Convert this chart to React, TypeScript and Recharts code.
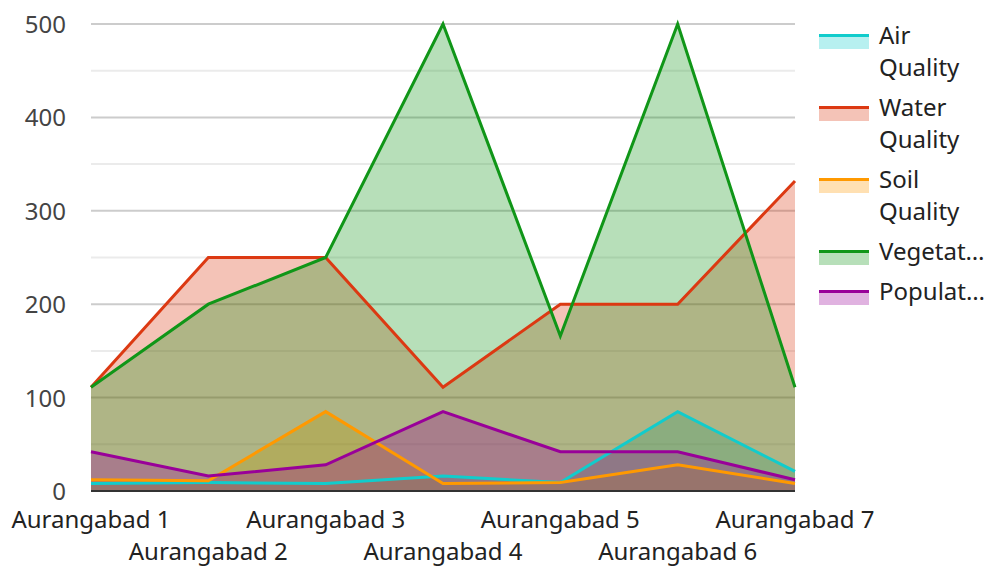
import { ComposedChart, Area, Line, XAxis, YAxis, CartesianGrid } from 'recharts';

const CATEGORIES = [
  'Aurangabad 1',
  'Aurangabad 2',
  'Aurangabad 3',
  'Aurangabad 4',
  'Aurangabad 5',
  'Aurangabad 6',
  'Aurangabad 7',
];

const AIR = [8, 9, 8, 16, 9, 85, 21];
const WATER = [111, 250, 250, 111, 200, 200, 332];
const SOIL = [12, 11, 85, 8, 9, 28, 8];
const VEGETATION = [111, 200, 250, 500, 166, 500, 111];
const POPULATION = [42, 16, 28, 85, 42, 42, 12];

const SERIES_KEYS = ['air', 'water', 'soil', 'vegetation', 'population'];
const LEGEND_LABELS = ['Air Quality', 'Water Quality', 'Soil Quality', 'Vegetat…', 'Populat…'];
const COLORS = ['#11cccc', '#dc3912', '#ff9900', '#109618', '#990099'];

const Y_TICKS = [0, 50, 100, 150, 200, 250, 300, 350, 400, 450, 500];
const MAJOR = [100, 200, 300, 400, 500];
const MINOR = [50, 150, 250, 350, 450];

const data = CATEGORIES.map((name, i) => ({
  name,
  air: AIR[i],
  water: WATER[i],
  soil: SOIL[i],
  vegetation: VEGETATION[i],
  population: POPULATION[i],
}));

const FONT = '"Noto Sans", sans-serif';

const YTick = ({ y, payload }: any) => {
  if (payload.value % 100 !== 0) return null;
  return (
    <text x={66} y={y + 9} textAnchor="end" fontSize={24} fill="#444" fontFamily={FONT}>
      {payload.value}
    </text>
  );
};

// staggered category labels, odd ones on a second row
const XTick = ({ x, payload, index }: any) => (
  <text
    x={x}
    y={491 + (index % 2 ? 69 : 37)}
    textAnchor="middle"
    fontSize={24}
    fill="#222"
    fontFamily={FONT}
  >
    {payload.value}
  </text>
);

// two-line items take 72px, one-line 40px
const legendTops = [19, 91, 163, 235, 275];

const App = () => (
  <div style={{ position: 'absolute', left: 0, top: 0, width: 991, height: 567, background: '#fff' }}>
    <ComposedChart
      width={991}
      height={567}
      data={data}
      margin={{ top: 24, right: 196, bottom: 0, left: 0 }}
    >
      <CartesianGrid vertical={false} horizontalValues={MINOR} stroke="#ebebeb" strokeWidth={2} />
      <CartesianGrid vertical={false} horizontalValues={MAJOR} stroke="#cccccc" strokeWidth={2} />
      <XAxis
        dataKey="name"
        interval={0}
        height={76}
        tickLine={false}
        tickSize={0}
        axisLine={{ stroke: '#333', strokeWidth: 2 }}
        tick={<XTick />}
      />
      <YAxis
        width={91}
        domain={[0, 500]}
        ticks={Y_TICKS}
        axisLine={false}
        tickLine={false}
        tick={<YTick />}
      />
      {/* fills first, then all lines on top */}
      {SERIES_KEYS.map((k, i) => (
        <Area
          key={'a-' + k}
          type="linear"
          dataKey={k}
          stroke="none"
          fill={COLORS[i]}
          fillOpacity={0.3}
          dot={false}
          activeDot={false}
          isAnimationActive={false}
        />
      ))}
      {SERIES_KEYS.map((k, i) => (
        <Line
          key={'l-' + k}
          type="linear"
          dataKey={k}
          stroke={COLORS[i]}
          strokeWidth={3}
          dot={false}
          activeDot={false}
          isAnimationActive={false}
        />
      ))}
    </ComposedChart>
    {LEGEND_LABELS.map((label, i) => (
      <div key={label} style={{ position: 'absolute', left: 819, top: legendTops[i] }}>
        <div style={{ position: 'absolute', left: 0, top: 15, width: 50, height: 3, background: COLORS[i] }} />
        <div
          style={{
            position: 'absolute',
            left: 0,
            top: 18,
            width: 50,
            height: 12,
            background: COLORS[i],
            opacity: 0.3,
          }}
        />
        <div
          style={{
            position: 'absolute',
            left: 60,
            top: 0,
            width: 112,
            fontFamily: FONT,
            fontSize: 24,
            lineHeight: '32px',
            color: '#222',
          }}
        >
          {label}
        </div>
      </div>
    ))}
  </div>
);

export default App;
